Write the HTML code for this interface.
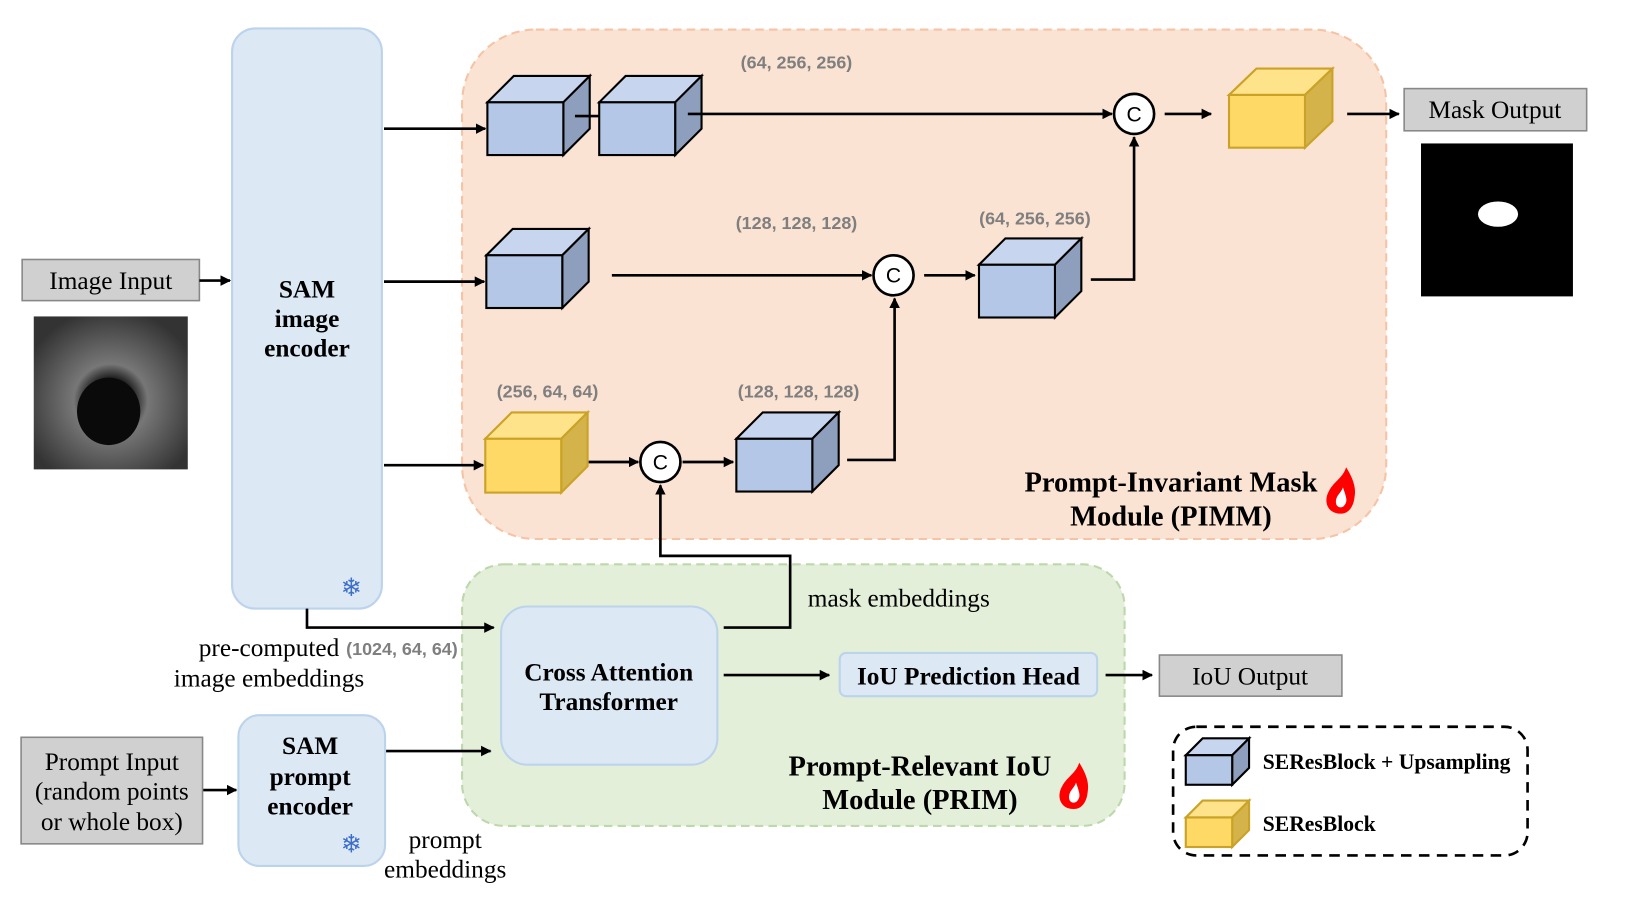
<!DOCTYPE html>
<html><head><meta charset="utf-8"><style>
html,body{margin:0;padding:0;background:#fff;}
svg{display:block;}
.s{font-family:"Liberation Serif",serif;fill:#000;}
.b{font-family:"Liberation Serif",serif;font-weight:bold;fill:#000;}
.g{font-family:"Liberation Sans",sans-serif;font-weight:bold;fill:#7f7f7f;font-size:17px;}
</style></head><body>
<svg width="1651" height="924" viewBox="0 0 1565 876" preserveAspectRatio="none" xmlns="http://www.w3.org/2000/svg">
<defs>
<marker id="a" markerWidth="10" markerHeight="10" refX="9" refY="5" orient="auto" markerUnits="userSpaceOnUse"><path d="M0,0 L10,5 L0,10 z" fill="#000"/></marker>
<radialGradient id="mri" cx="50%" cy="55%" r="60%"><stop offset="0" stop-color="#111"/><stop offset="0.25" stop-color="#222"/><stop offset="0.4" stop-color="#777"/><stop offset="0.7" stop-color="#555"/><stop offset="1" stop-color="#333"/></radialGradient>
</defs>
<rect width="1565" height="876" fill="#fff"/>
<rect x="438" y="28" width="876" height="483" rx="70" fill="#fbe3d3" stroke="#f5c3a5" stroke-width="2" stroke-dasharray="8,5"/>
<rect x="438" y="535" width="628" height="248" rx="40" fill="#e3efd9" stroke="#bcd8ac" stroke-width="2" stroke-dasharray="8,5"/>
<rect x="220" y="27" width="142" height="550" rx="22" fill="#dde8f5" stroke="#bcd3ec" stroke-width="2"/>
<text class="b" font-size="24" text-anchor="middle" x="291" y="282">SAM</text>
<text class="b" font-size="24" text-anchor="middle" x="291" y="310">image</text>
<text class="b" font-size="24" text-anchor="middle" x="291" y="338">encoder</text>
<text x="333" y="565" font-size="24" fill="#3d6fc8" text-anchor="middle" font-family="DejaVu Sans,sans-serif">❄</text>
<rect x="21" y="246" width="168" height="39" fill="#d0d0d0" stroke="#888" stroke-width="1.5"/>
<text class="s" font-size="24" text-anchor="middle" x="105" y="274">Image Input</text>
<line x1="189" y1="266" x2="218" y2="266" stroke="#000" stroke-width="2.5" marker-end="url(#a)"/>
<rect x="32" y="300" width="146" height="145" fill="url(#mri)"/>
<ellipse cx="103" cy="390" rx="30" ry="32" fill="#0a0a0a"/>
<g stroke="#000" stroke-width="2">
<polygon points="462,97 487,72 559,72 534,97" fill="#c7d5ee"/><polygon points="534,97 559,72 559,122 534,147" fill="#8e9fbd"/><rect x="462" y="97" width="72" height="50" fill="#b4c7e7"/>
<polygon points="568,97 593,72 665,72 640,97" fill="#c7d5ee"/><polygon points="640,97 665,72 665,122 640,147" fill="#8e9fbd"/><rect x="568" y="97" width="72" height="50" fill="#b4c7e7"/>
<polygon points="461,242 486,217 558,217 533,242" fill="#c7d5ee"/><polygon points="533,242 558,217 558,267 533,292" fill="#8e9fbd"/><rect x="461" y="242" width="72" height="50" fill="#b4c7e7"/>
<polygon points="698,416 723,391 795,391 770,416" fill="#c7d5ee"/><polygon points="770,416 795,391 795,441 770,466" fill="#8e9fbd"/><rect x="698" y="416" width="72" height="50" fill="#b4c7e7"/>
<polygon points="928,251 953,226 1025,226 1000,251" fill="#c7d5ee"/><polygon points="1000,251 1025,226 1025,276 1000,301" fill="#8e9fbd"/><rect x="928" y="251" width="72" height="50" fill="#b4c7e7"/>
<polygon points="1124,716 1140,700 1184,700 1168,716" fill="#c7d5ee"/><polygon points="1168,716 1184,700 1184,728 1168,744" fill="#8e9fbd"/><rect x="1124" y="716" width="44" height="28" fill="#b4c7e7"/>
</g>
<g stroke="#c9a227" stroke-width="2">
<polygon points="460,416 485,391 557,391 532,416" fill="#ffe38a"/><polygon points="532,416 557,391 557,442 532,467" fill="#d4b44a"/><rect x="460" y="416" width="72" height="51" fill="#ffd966"/>
<polygon points="1165,90 1191,65 1263,65 1237,90" fill="#ffe38a"/><polygon points="1237,90 1263,65 1263,115 1237,140" fill="#d4b44a"/><rect x="1165" y="90" width="72" height="50" fill="#ffd966"/>
<polygon points="1124,775 1140,759 1184,759 1168,775" fill="#ffe38a"/><polygon points="1168,775 1184,759 1184,787 1168,803" fill="#d4b44a"/><rect x="1124" y="775" width="44" height="28" fill="#ffd966"/>
</g>
<g fill="#fff" stroke="#000" stroke-width="2.5">
<circle cx="1075" cy="108" r="19"/><circle cx="847" cy="261" r="19"/><circle cx="626" cy="438" r="19"/>
</g>
<g font-family="Liberation Sans,sans-serif" font-size="20" text-anchor="middle">
<text x="1075" y="115">C</text><text x="847" y="268">C</text><text x="626" y="445">C</text>
</g>
<g stroke="#000" stroke-width="2.5" fill="none">
<line x1="364" y1="122" x2="460" y2="122" marker-end="url(#a)"/>
<line x1="545" y1="110" x2="568" y2="110"/>
<line x1="652" y1="108" x2="1054" y2="108" marker-end="url(#a)"/>
<line x1="1104" y1="108" x2="1148" y2="108" marker-end="url(#a)"/>
<line x1="1277" y1="108" x2="1326" y2="108" marker-end="url(#a)"/>
<line x1="364" y1="267" x2="459" y2="267" marker-end="url(#a)"/>
<line x1="580" y1="261" x2="826" y2="261" marker-end="url(#a)"/>
<line x1="876" y1="261" x2="924" y2="261" marker-end="url(#a)"/>
<polyline points="1034,265 1075,265 1075,130" marker-end="url(#a)"/>
<line x1="364" y1="441" x2="458" y2="441" marker-end="url(#a)"/>
<line x1="558" y1="438" x2="605" y2="438" marker-end="url(#a)"/>
<line x1="647" y1="438" x2="695" y2="438" marker-end="url(#a)"/>
<polyline points="803,436 848,436 848,283" marker-end="url(#a)"/>
<polyline points="686,595 749,595 749,527 626,527 626,460" marker-end="url(#a)"/>
<polyline points="291,577 291,595 468,595" marker-end="url(#a)"/>
<line x1="686" y1="640" x2="786" y2="640" marker-end="url(#a)"/>
<line x1="1048" y1="640" x2="1092" y2="640" marker-end="url(#a)"/>
<line x1="192" y1="749" x2="224" y2="749" marker-end="url(#a)"/>
<line x1="365" y1="712" x2="465" y2="712" marker-end="url(#a)"/>
</g>
<text class="g" x="755" y="65" text-anchor="middle">(64, 256, 256)</text>
<text class="g" x="755" y="217" text-anchor="middle">(128, 128, 128)</text>
<text class="g" x="981" y="213" text-anchor="middle">(64, 256, 256)</text>
<text class="g" x="519" y="377" text-anchor="middle">(256, 64, 64)</text>
<text class="g" x="757" y="377" text-anchor="middle">(128, 128, 128)</text>
<text class="b" font-size="27" text-anchor="middle" x="1110" y="466">Prompt-Invariant Mask</text>
<text class="b" font-size="27" text-anchor="middle" x="1110" y="498">Module (PIMM)</text>
<g transform="translate(1271,465)"><path d="M0,22 C-13,22 -17,10 -11,0 C-6,-9 2,-12 5,-22 C10,-14 15,-4 13,6 C12,16 7,22 0,22 z" fill="#f00"/><path d="M0,16 C-5,16 -6,10 -3,5 C-1,2 1,0 2,-3 C4,3 6,8 5,11 C4,14 2,16 0,16 z" fill="#fff"/></g>
<g transform="translate(1018,745)"><path d="M0,22 C-13,22 -17,10 -11,0 C-6,-9 2,-12 5,-22 C10,-14 15,-4 13,6 C12,16 7,22 0,22 z" fill="#f00"/><path d="M0,16 C-5,16 -6,10 -3,5 C-1,2 1,0 2,-3 C4,3 6,8 5,11 C4,14 2,16 0,16 z" fill="#fff"/></g>
<rect x="1331" y="84" width="173" height="40" fill="#d0d0d0" stroke="#888" stroke-width="1.5"/>
<text class="s" font-size="24" text-anchor="middle" x="1417" y="112">Mask Output</text>
<rect x="1347" y="136" width="144" height="145" fill="#000"/>
<ellipse cx="1420" cy="203" rx="19" ry="12" fill="#fff"/>
<text class="s" font-size="24" text-anchor="middle" x="255" y="622">pre-computed</text>
<text class="g" x="381" y="621" text-anchor="middle">(1024, 64, 64)</text>
<text class="s" font-size="24" text-anchor="middle" x="255" y="651">image embeddings</text>
<rect x="475" y="575" width="205" height="150" rx="25" fill="#dde8f5" stroke="#bcd3ec" stroke-width="2"/>
<text class="b" font-size="24" text-anchor="middle" x="577" y="645">Cross Attention</text>
<text class="b" font-size="24" text-anchor="middle" x="577" y="673">Transformer</text>
<text class="s" font-size="24" text-anchor="middle" x="852" y="575">mask embeddings</text>
<rect x="796" y="619" width="244" height="41" rx="6" fill="#dde8f5" stroke="#bcd3ec" stroke-width="2"/>
<text class="b" font-size="24" text-anchor="middle" x="918" y="649">IoU Prediction Head</text>
<rect x="1099" y="621" width="173" height="39" fill="#d0d0d0" stroke="#888" stroke-width="1.5"/>
<text class="s" font-size="24" text-anchor="middle" x="1185" y="649">IoU Output</text>
<text class="b" font-size="27" text-anchor="middle" x="872" y="735">Prompt-Relevant IoU</text>
<text class="b" font-size="27" text-anchor="middle" x="872" y="767">Module (PRIM)</text>
<rect x="20" y="699" width="172" height="101" fill="#d0d0d0" stroke="#888" stroke-width="1.5"/>
<text class="s" font-size="24" text-anchor="middle" x="106" y="730">Prompt Input</text>
<text class="s" font-size="24" text-anchor="middle" x="106" y="758">(random points</text>
<text class="s" font-size="24" text-anchor="middle" x="106" y="787">or whole box)</text>
<rect x="226" y="678" width="139" height="143" rx="20" fill="#dde8f5" stroke="#bcd3ec" stroke-width="2"/>
<text class="b" font-size="24" text-anchor="middle" x="294" y="715">SAM</text>
<text class="b" font-size="24" text-anchor="middle" x="294" y="744">prompt</text>
<text class="b" font-size="24" text-anchor="middle" x="294" y="772">encoder</text>
<text x="333" y="808" font-size="24" fill="#3d6fc8" text-anchor="middle" font-family="DejaVu Sans,sans-serif">❄</text>
<text class="s" font-size="24" text-anchor="middle" x="422" y="804">prompt</text>
<text class="s" font-size="24" text-anchor="middle" x="422" y="832">embeddings</text>
<rect x="1112" y="689" width="336" height="122" rx="22" fill="none" stroke="#000" stroke-width="2.5" stroke-dasharray="10,7"/>
<text class="b" font-size="20.5" x="1197" y="729">SEResBlock + Upsampling</text>
<text class="b" font-size="20.5" x="1197" y="788">SEResBlock</text>
</svg>
</body></html>
